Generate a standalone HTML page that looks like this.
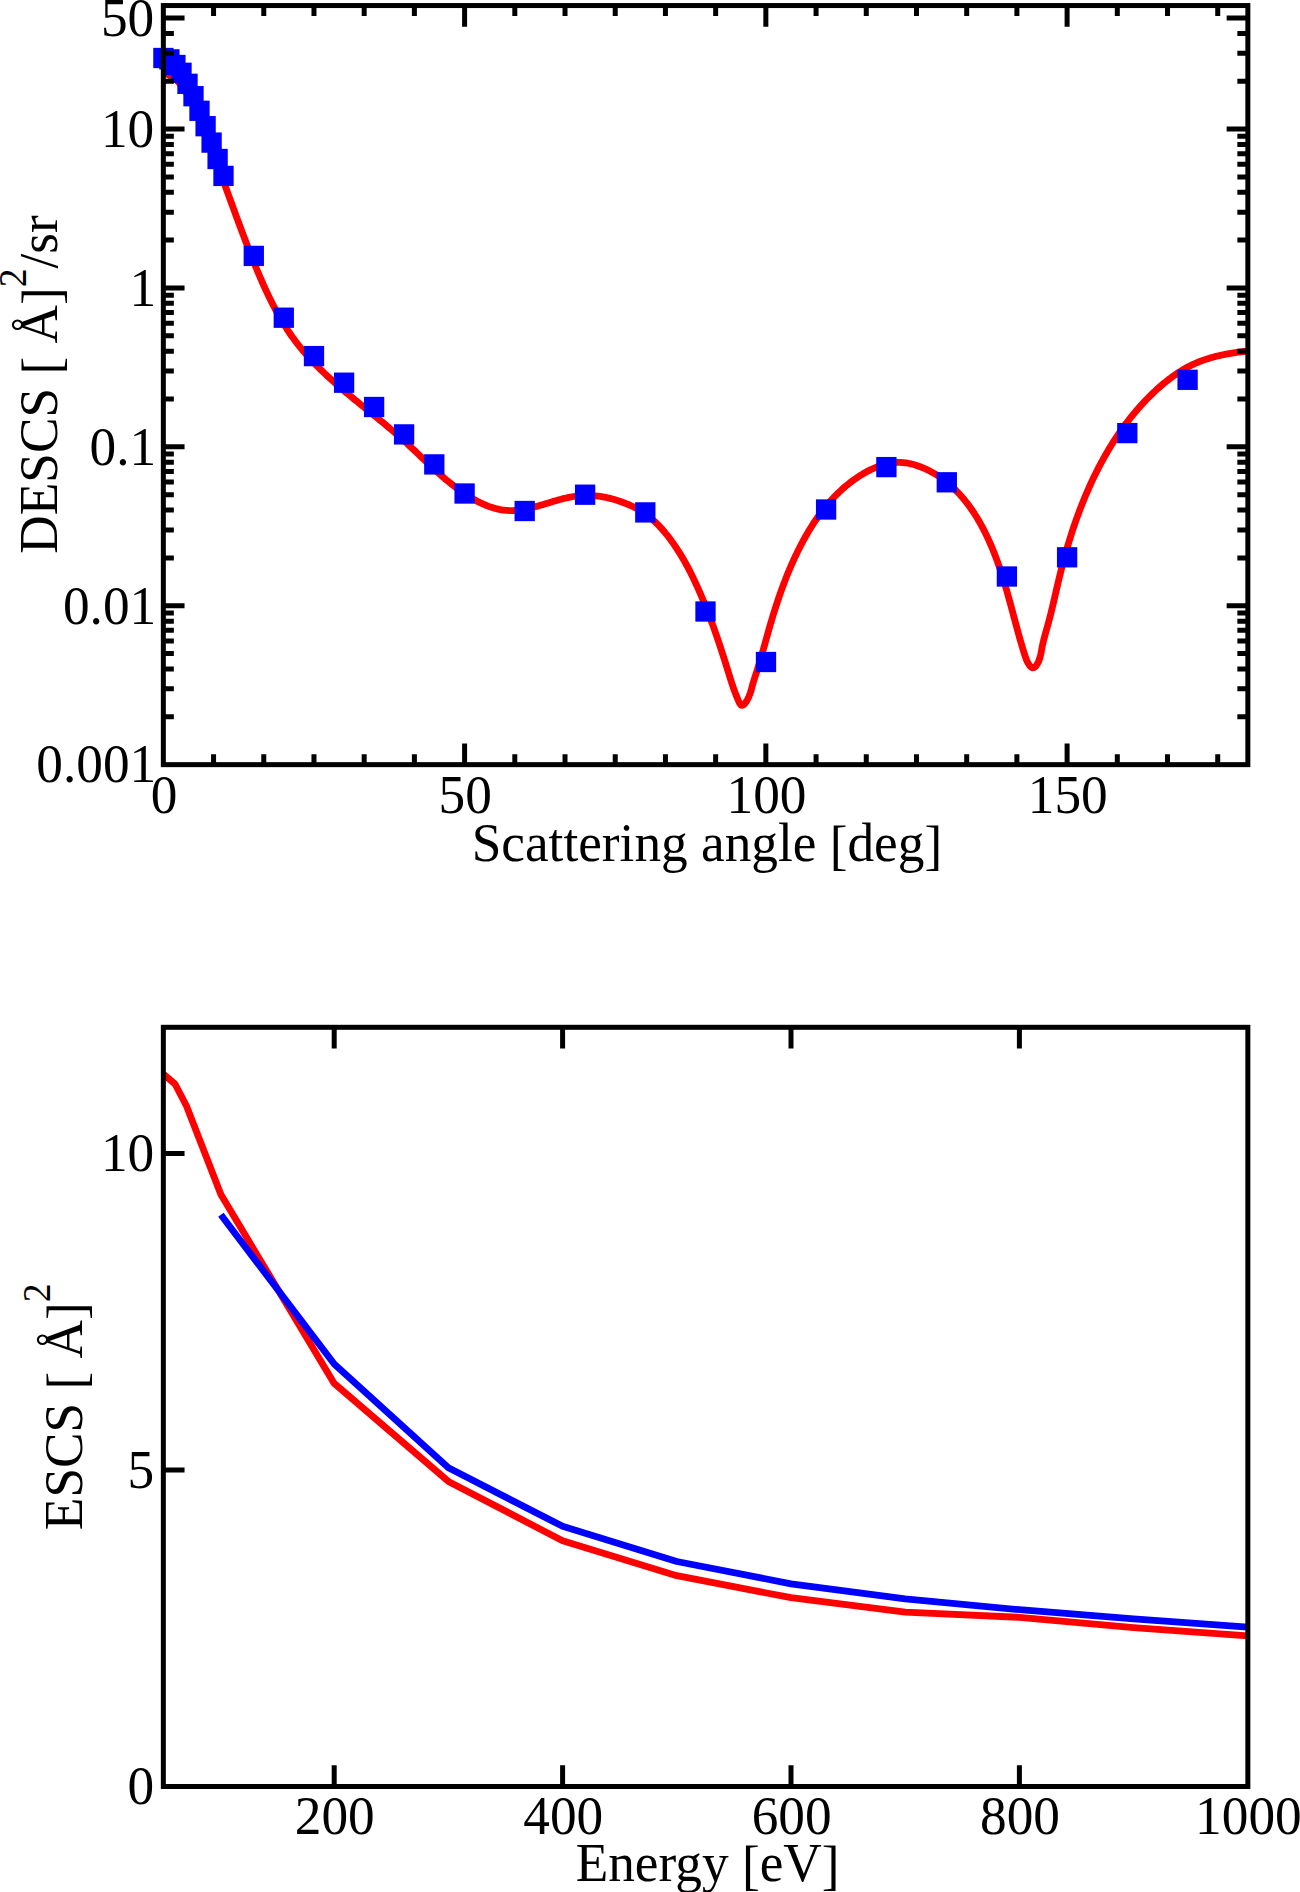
<!DOCTYPE html>
<html lang="en"><head><meta charset="utf-8"><title>DESCS and ESCS plots</title>
<style>html,body{margin:0;padding:0;background:#fff}body{width:1300px;height:1892px;overflow:hidden}svg{display:block}text{font-family:"Liberation Serif", serif;font-size:53.3px;fill:#000}.ax{stroke:#000;stroke-width:5;fill:none;stroke-linecap:butt}.c{fill:none;stroke-width:6.8;stroke-linejoin:round;stroke-linecap:butt}.e{text-anchor:end}.m{text-anchor:middle}</style></head><body>
<svg width="1300" height="1892" viewBox="0 0 1300 1892">
<rect width="1300" height="1892" fill="#fff"/>
<g id="top-panel">
<polyline class="c" stroke="#f00" points="163.71,72.99 165.23,73.46 166.69,74 168.1,74.59 169.46,75.25 170.77,75.97 172.03,76.75 173.25,77.57 174.42,78.45 175.55,79.37 176.63,80.34 177.69,81.35 178.7,82.4 179.68,83.49 180.63,84.61 181.54,85.77 182.43,86.95 183.29,88.17 184.13,89.41 184.94,90.67 185.73,91.95 186.51,93.25 187.26,94.56 188,95.89 188.73,97.22 189.44,98.57 190.15,99.92 190.85,101.27 191.53,102.62 192.22,103.98 192.89,105.34 193.56,106.7 194.22,108.07 194.87,109.43 195.52,110.8 196.16,112.17 196.79,113.54 197.42,114.92 198.04,116.29 198.66,117.67 199.27,119.05 199.87,120.43 200.47,121.82 201.07,123.2 201.66,124.59 202.25,125.97 202.83,127.36 203.4,128.75 203.98,130.14 204.55,131.53 205.11,132.93 205.67,134.32 206.23,135.71 206.79,137.11 207.34,138.5 207.89,139.9 208.44,141.29 208.98,142.69 209.53,144.09 210.07,145.49 210.61,146.88 211.14,148.28 211.68,149.68 212.21,151.08 212.75,152.47 213.28,153.87 213.81,155.27 214.34,156.67 214.87,158.07 215.39,159.46 215.92,160.86 216.44,162.26 216.96,163.66 217.49,165.06 218.01,166.46 218.53,167.86 219.05,169.25 219.56,170.65 220.08,172.05 220.6,173.45 221.11,174.85 221.63,176.25 222.14,177.65 222.66,179.05 223.17,180.45 223.69,181.85 224.2,183.25 224.71,184.65 225.22,186.05 225.73,187.45 226.25,188.85 226.76,190.25 227.27,191.65 227.78,193.05 228.29,194.45 228.8,195.85 229.31,197.25 229.82,198.65 230.34,200.05 230.85,201.45 231.36,202.85 231.87,204.25 232.38,205.66 232.9,207.06 233.41,208.46 233.92,209.86 234.44,211.26 234.95,212.66 235.47,214.07 235.98,215.47 236.5,216.87 237.02,218.27 237.54,219.67 238.06,221.08 238.58,222.48 239.1,223.88 239.62,225.28 240.14,226.69 240.67,228.09 241.19,229.49 241.72,230.89 242.25,232.3 242.78,233.7 243.31,235.1 243.84,236.51 244.37,237.91 244.91,239.32 245.44,240.72 245.98,242.12 246.52,243.53 247.06,244.93 247.6,246.34 248.15,247.74 248.69,249.14 249.24,250.55 249.79,251.95 250.34,253.36 250.89,254.76 251.45,256.17 252.01,257.57 252.57,258.98 253.13,260.38 253.69,261.79 254.26,263.19 254.83,264.6 255.4,266 255.98,267.4 256.56,268.8 257.14,270.2 257.72,271.6 258.31,273 258.9,274.4 259.49,275.8 260.09,277.19 260.69,278.58 261.3,279.98 261.9,281.37 262.52,282.75 263.13,284.14 263.75,285.52 264.38,286.9 265.01,288.28 265.64,289.66 266.28,291.03 266.92,292.41 267.57,293.77 268.22,295.14 268.87,296.5 269.53,297.86 270.2,299.22 270.87,300.57 271.55,301.92 272.23,303.27 272.92,304.61 273.61,305.95 274.31,307.29 275.01,308.62 275.72,309.95 276.44,311.27 277.16,312.59 277.89,313.9 278.62,315.21 279.37,316.52 280.11,317.82 280.87,319.11 281.63,320.4 282.39,321.69 283.17,322.97 283.95,324.25 284.74,325.52 285.53,326.78 286.33,328.04 287.14,329.29 287.96,330.54 288.78,331.78 289.62,333.02 290.46,334.25 291.3,335.47 292.16,336.68 293.02,337.89 293.89,339.1 294.77,340.3 295.66,341.49 296.56,342.67 297.46,343.84 298.38,345.01 299.3,346.18 300.23,347.33 301.16,348.48 302.11,349.63 303.06,350.76 304.02,351.89 304.99,353.02 305.96,354.14 306.95,355.25 307.93,356.36 308.93,357.46 309.93,358.56 310.94,359.65 311.96,360.73 312.98,361.81 314,362.89 315.04,363.96 316.08,365.02 317.12,366.08 318.18,367.14 319.23,368.19 320.29,369.23 321.36,370.28 322.44,371.31 323.51,372.35 324.6,373.38 325.68,374.4 326.78,375.43 327.87,376.44 328.97,377.46 330.08,378.47 331.19,379.48 332.3,380.48 333.42,381.48 334.54,382.48 335.67,383.47 336.79,384.46 337.93,385.45 339.06,386.44 340.2,387.42 341.34,388.4 342.48,389.38 343.63,390.36 344.78,391.33 345.93,392.31 347.09,393.28 348.24,394.24 349.4,395.21 350.56,396.18 351.72,397.14 352.89,398.1 354.05,399.06 355.22,400.02 356.39,400.98 357.56,401.94 358.73,402.89 359.9,403.85 361.07,404.8 362.25,405.76 363.42,406.71 364.6,407.66 365.77,408.62 366.94,409.57 368.12,410.52 369.29,411.48 370.47,412.43 371.64,413.38 372.81,414.34 373.99,415.29 375.16,416.24 376.33,417.2 377.5,418.16 378.67,419.11 379.84,420.07 381.01,421.03 382.17,421.99 383.33,422.95 384.5,423.91 385.66,424.88 386.81,425.84 387.97,426.81 389.12,427.78 390.27,428.75 391.42,429.73 392.57,430.7 393.71,431.68 394.85,432.66 395.99,433.64 397.12,434.63 398.25,435.62 399.38,436.61 400.5,437.6 401.62,438.6 402.74,439.59 403.85,440.6 404.96,441.6 406.06,442.61 407.16,443.62 408.26,444.64 409.35,445.66 410.45,446.68 411.53,447.7 412.62,448.72 413.7,449.75 414.79,450.77 415.87,451.8 416.94,452.83 418.02,453.86 419.1,454.89 420.18,455.91 421.25,456.94 422.33,457.97 423.41,459 424.48,460.03 425.56,461.05 426.64,462.08 427.72,463.1 428.8,464.12 429.89,465.14 430.97,466.16 432.06,467.17 433.15,468.19 434.25,469.2 435.34,470.2 436.44,471.2 437.55,472.2 438.66,473.2 439.77,474.19 440.89,475.17 442.01,476.16 443.14,477.13 444.27,478.1 445.41,479.07 446.55,480.03 447.7,480.99 448.85,481.94 450.02,482.88 451.19,483.82 452.36,484.74 453.55,485.67 454.74,486.58 455.94,487.49 457.15,488.39 458.36,489.28 459.59,490.17 460.82,491.04 462.06,491.91 463.32,492.77 464.58,493.62 465.85,494.46 467.13,495.29 468.43,496.1 469.73,496.91 471.03,497.7 472.35,498.48 473.68,499.24 475.01,499.98 476.36,500.71 477.7,501.42 479.06,502.11 480.43,502.78 481.8,503.44 483.17,504.06 484.56,504.67 485.95,505.25 487.34,505.81 488.74,506.34 490.15,506.84 491.56,507.32 492.98,507.77 494.4,508.19 495.82,508.58 497.25,508.94 498.68,509.26 500.12,509.55 501.56,509.81 503,510.03 504.45,510.22 505.89,510.37 507.34,510.48 508.79,510.56 510.25,510.59 511.7,510.59 513.16,510.55 514.62,510.48 516.08,510.38 517.54,510.25 519.01,510.09 520.47,509.9 521.94,509.68 523.41,509.44 524.87,509.17 526.34,508.88 527.82,508.58 529.29,508.25 530.76,507.9 532.24,507.54 533.71,507.16 535.19,506.77 536.66,506.37 538.14,505.96 539.62,505.53 541.1,505.1 542.58,504.66 544.06,504.22 545.54,503.77 547.02,503.33 548.5,502.88 549.98,502.43 551.46,501.98 552.94,501.54 554.42,501.1 555.9,500.67 557.39,500.25 558.87,499.83 560.35,499.43 561.83,499.04 563.31,498.66 564.79,498.3 566.27,497.95 567.74,497.62 569.22,497.31 570.7,497.02 572.18,496.76 573.65,496.51 575.13,496.29 576.6,496.1 578.07,495.94 579.54,495.8 581.02,495.68 582.49,495.59 583.95,495.53 585.42,495.49 586.89,495.48 588.36,495.49 589.82,495.53 591.28,495.58 592.75,495.67 594.21,495.77 595.67,495.9 597.13,496.06 598.58,496.23 600.04,496.43 601.5,496.65 602.95,496.89 604.4,497.16 605.85,497.44 607.3,497.75 608.75,498.08 610.2,498.43 611.64,498.79 613.09,499.18 614.53,499.59 615.97,500.02 617.41,500.47 618.85,500.94 620.29,501.43 621.72,501.93 623.15,502.46 624.58,503 626,503.57 627.41,504.15 628.81,504.75 630.21,505.38 631.6,506.02 632.98,506.68 634.35,507.36 635.7,508.07 637.05,508.79 638.38,509.53 639.69,510.3 640.99,511.08 642.28,511.88 643.54,512.71 644.79,513.55 646.02,514.42 647.23,515.31 648.43,516.21 649.6,517.14 650.76,518.08 651.89,519.04 653.02,520.02 654.12,521.02 655.21,522.03 656.29,523.06 657.34,524.1 658.39,525.16 659.42,526.23 660.43,527.32 661.44,528.42 662.43,529.53 663.4,530.65 664.37,531.78 665.32,532.93 666.26,534.08 667.19,535.24 668.11,536.41 669.02,537.59 669.92,538.78 670.81,539.98 671.69,541.18 672.56,542.39 673.42,543.61 674.28,544.84 675.12,546.07 675.95,547.31 676.78,548.56 677.59,549.81 678.4,551.08 679.2,552.34 679.99,553.61 680.77,554.89 681.55,556.18 682.31,557.47 683.07,558.76 683.82,560.06 684.56,561.37 685.3,562.68 686.03,564 686.75,565.32 687.46,566.64 688.17,567.97 688.87,569.31 689.56,570.64 690.25,571.99 690.93,573.33 691.6,574.68 692.27,576.03 692.93,577.39 693.58,578.74 694.24,580.11 694.88,581.47 695.52,582.84 696.15,584.2 696.78,585.57 697.4,586.95 698.02,588.32 698.64,589.7 699.24,591.08 699.85,592.45 700.45,593.84 701.04,595.22 701.63,596.6 702.22,597.99 702.8,599.37 703.38,600.76 703.95,602.15 704.52,603.54 705.08,604.93 705.64,606.33 706.2,607.72 706.75,609.12 707.3,610.51 707.85,611.91 708.39,613.31 708.93,614.71 709.46,616.11 709.99,617.52 710.52,618.92 711.04,620.32 711.56,621.73 712.08,623.14 712.59,624.54 713.1,625.95 713.61,627.36 714.11,628.77 714.61,630.18 715.11,631.59 715.61,633.01 716.1,634.42 716.59,635.83 717.07,637.25 717.56,638.66 718.04,640.08 718.52,641.5 718.99,642.91 719.47,644.33 719.94,645.75 720.41,647.17 720.87,648.59 721.34,650.01 721.8,651.43 722.26,652.85 722.72,654.27 723.18,655.69 723.63,657.11 724.09,658.53 724.54,659.96 724.99,661.38 725.43,662.8 725.88,664.22 726.32,665.65 726.77,667.07 727.21,668.49 727.65,669.92 728.09,671.34 728.53,672.76 728.97,674.19 729.41,675.61 729.85,677.04 730.3,678.47 730.76,679.9 731.21,681.33 731.68,682.76 732.15,684.2 732.64,685.64 733.13,687.08 733.63,688.53 734.15,689.98 734.68,691.43 735.22,692.89 735.78,694.36 736.35,695.83 736.95,697.3 737.56,698.78 738.19,700.27 738.84,701.73 739.52,703.09 740.25,704.22 741.04,705.02 741.89,705.38 742.82,705.21 743.8,704.57 744.8,703.57 745.78,702.29 746.72,700.84 747.59,699.31 748.36,697.8 749.04,696.3 749.63,694.82 750.16,693.35 750.63,691.89 751.06,690.45 751.47,689.01 751.85,687.58 752.23,686.16 752.62,684.73 753.03,683.31 753.45,681.88 753.89,680.45 754.34,679.03 754.79,677.6 755.25,676.17 755.72,674.74 756.19,673.31 756.65,671.88 757.11,670.45 757.57,669.02 758.02,667.58 758.46,666.15 758.9,664.72 759.34,663.28 759.77,661.84 760.2,660.41 760.62,658.97 761.04,657.53 761.46,656.1 761.87,654.66 762.28,653.22 762.69,651.78 763.09,650.34 763.5,648.9 763.9,647.46 764.3,646.02 764.7,644.58 765.1,643.14 765.5,641.7 765.9,640.26 766.3,638.82 766.7,637.38 767.11,635.94 767.51,634.5 767.91,633.06 768.32,631.62 768.72,630.18 769.13,628.74 769.55,627.3 769.96,625.86 770.38,624.42 770.8,622.98 771.22,621.55 771.65,620.11 772.08,618.67 772.51,617.24 772.95,615.8 773.39,614.36 773.83,612.93 774.28,611.5 774.73,610.06 775.18,608.63 775.64,607.2 776.1,605.77 776.56,604.34 777.03,602.92 777.51,601.49 777.98,600.07 778.46,598.64 778.95,597.22 779.44,595.8 779.93,594.38 780.43,592.96 780.93,591.55 781.44,590.13 781.95,588.72 782.46,587.31 782.98,585.9 783.51,584.49 784.04,583.08 784.57,581.68 785.11,580.28 785.66,578.88 786.21,577.48 786.76,576.08 787.32,574.69 787.89,573.3 788.46,571.91 789.04,570.52 789.62,569.14 790.21,567.76 790.8,566.38 791.4,565 792,563.63 792.61,562.26 793.23,560.89 793.85,559.53 794.48,558.16 795.12,556.8 795.76,555.45 796.4,554.09 797.06,552.74 797.71,551.39 798.38,550.05 799.05,548.71 799.73,547.37 800.42,546.03 801.11,544.7 801.81,543.38 802.51,542.05 803.23,540.73 803.95,539.41 804.67,538.1 805.41,536.79 806.15,535.48 806.9,534.18 807.65,532.89 808.42,531.6 809.19,530.31 809.97,529.03 810.75,527.75 811.55,526.48 812.35,525.21 813.16,523.95 813.98,522.7 814.81,521.45 815.64,520.21 816.49,518.97 817.34,517.74 818.2,516.52 819.07,515.3 819.95,514.09 820.84,512.89 821.74,511.7 822.64,510.51 823.56,509.33 824.48,508.16 825.42,507 826.36,505.85 827.32,504.7 828.28,503.56 829.25,502.43 830.24,501.31 831.23,500.2 832.24,499.1 833.25,498.01 834.27,496.93 835.31,495.86 836.35,494.8 837.41,493.74 838.48,492.7 839.55,491.67 840.64,490.65 841.74,489.64 842.85,488.65 843.97,487.66 845.11,486.68 846.25,485.72 847.41,484.77 848.57,483.83 849.75,482.9 850.94,481.98 852.15,481.08 853.36,480.19 854.59,479.31 855.83,478.44 857.08,477.59 858.34,476.75 859.62,475.93 860.91,475.12 862.21,474.32 863.52,473.54 864.84,472.77 866.18,472.03 867.53,471.3 868.88,470.59 870.25,469.91 871.62,469.24 873.01,468.6 874.4,467.99 875.8,467.4 877.21,466.84 878.63,466.31 880.05,465.8 881.48,465.33 882.92,464.89 884.36,464.48 885.8,464.1 887.26,463.76 888.71,463.46 890.17,463.19 891.64,462.96 893.11,462.77 894.58,462.62 896.05,462.51 897.53,462.45 899.01,462.43 900.48,462.45 901.96,462.52 903.44,462.64 904.92,462.8 906.4,462.99 907.88,463.23 909.35,463.51 910.82,463.82 912.28,464.18 913.74,464.56 915.19,464.98 916.64,465.43 918.08,465.92 919.51,466.43 920.93,466.97 922.35,467.54 923.75,468.13 925.14,468.75 926.52,469.39 927.88,470.05 929.24,470.73 930.58,471.43 931.9,472.15 933.21,472.89 934.51,473.65 935.79,474.42 937.06,475.21 938.31,476.02 939.55,476.85 940.78,477.69 941.99,478.54 943.19,479.42 944.37,480.31 945.54,481.21 946.7,482.13 947.85,483.07 948.98,484.02 950.1,484.99 951.21,485.97 952.3,486.96 953.38,487.97 954.45,488.99 955.51,490.03 956.55,491.08 957.58,492.14 958.6,493.22 959.61,494.31 960.6,495.41 961.58,496.52 962.55,497.64 963.51,498.78 964.46,499.93 965.4,501.09 966.32,502.26 967.24,503.44 968.14,504.63 969.03,505.83 969.91,507.04 970.78,508.26 971.64,509.49 972.49,510.73 973.32,511.98 974.15,513.24 974.96,514.5 975.77,515.78 976.57,517.06 977.35,518.35 978.13,519.65 978.89,520.96 979.65,522.27 980.39,523.59 981.13,524.92 981.86,526.25 982.58,527.59 983.28,528.94 983.98,530.29 984.67,531.65 985.35,533.01 986.02,534.38 986.69,535.75 987.34,537.13 987.99,538.51 988.62,539.89 989.25,541.28 989.87,542.68 990.48,544.07 991.09,545.47 991.68,546.88 992.27,548.28 992.85,549.69 993.42,551.1 993.99,552.51 994.54,553.93 995.09,555.34 995.64,556.76 996.17,558.18 996.7,559.6 997.22,561.02 997.73,562.44 998.24,563.86 998.74,565.28 999.23,566.7 999.72,568.12 1000.2,569.54 1000.67,570.95 1001.14,572.37 1001.61,573.79 1002.06,575.21 1002.51,576.63 1002.96,578.04 1003.4,579.46 1003.84,580.88 1004.27,582.3 1004.7,583.71 1005.12,585.13 1005.54,586.55 1005.96,587.97 1006.37,589.39 1006.78,590.81 1007.19,592.23 1007.59,593.65 1007.99,595.07 1008.39,596.49 1008.79,597.91 1009.18,599.33 1009.57,600.76 1009.96,602.18 1010.35,603.61 1010.74,605.04 1011.13,606.46 1011.51,607.89 1011.9,609.32 1012.28,610.75 1012.66,612.18 1013.05,613.62 1013.43,615.05 1013.82,616.49 1014.2,617.93 1014.59,619.37 1014.97,620.81 1015.36,622.25 1015.75,623.7 1016.14,625.14 1016.53,626.59 1016.93,628.04 1017.32,629.49 1017.72,630.95 1018.12,632.4 1018.52,633.86 1018.93,635.32 1019.34,636.78 1019.75,638.25 1020.17,639.71 1020.59,641.18 1021.01,642.65 1021.44,644.13 1021.88,645.61 1022.31,647.09 1022.75,648.57 1023.2,650.05 1023.65,651.54 1024.11,653.03 1024.58,654.52 1025.06,656 1025.58,657.47 1026.12,658.92 1026.71,660.33 1027.36,661.72 1028.06,663.06 1028.83,664.35 1029.67,665.57 1030.57,666.61 1031.53,667.38 1032.52,667.77 1033.54,667.69 1034.56,667.17 1035.55,666.31 1036.48,665.2 1037.33,663.94 1038.07,662.61 1038.71,661.22 1039.27,659.78 1039.75,658.3 1040.17,656.78 1040.54,655.24 1040.87,653.68 1041.18,652.11 1041.47,650.54 1041.75,648.98 1042.05,647.43 1042.35,645.89 1042.68,644.38 1043.02,642.88 1043.36,641.4 1043.72,639.93 1044.09,638.48 1044.47,637.03 1044.86,635.6 1045.25,634.17 1045.64,632.75 1046.04,631.33 1046.44,629.91 1046.84,628.5 1047.24,627.09 1047.64,625.67 1048.03,624.26 1048.42,622.83 1048.8,621.41 1049.18,619.98 1049.56,618.55 1049.93,617.11 1050.3,615.67 1050.66,614.22 1051.02,612.77 1051.38,611.32 1051.74,609.87 1052.09,608.41 1052.44,606.95 1052.79,605.49 1053.13,604.03 1053.48,602.56 1053.82,601.1 1054.16,599.63 1054.5,598.16 1054.84,596.69 1055.18,595.22 1055.52,593.74 1055.86,592.27 1056.2,590.8 1056.54,589.32 1056.88,587.85 1057.22,586.37 1057.57,584.9 1057.91,583.43 1058.26,581.96 1058.6,580.49 1058.95,579.02 1059.3,577.55 1059.66,576.08 1060.02,574.61 1060.38,573.15 1060.74,571.69 1061.1,570.23 1061.47,568.77 1061.84,567.31 1062.22,565.86 1062.6,564.41 1062.98,562.96 1063.36,561.51 1063.75,560.06 1064.14,558.61 1064.53,557.17 1064.93,555.72 1065.33,554.28 1065.74,552.84 1066.14,551.4 1066.56,549.96 1066.97,548.53 1067.39,547.1 1067.81,545.66 1068.24,544.23 1068.67,542.8 1069.1,541.38 1069.54,539.95 1069.98,538.52 1070.42,537.1 1070.87,535.68 1071.32,534.26 1071.78,532.84 1072.24,531.42 1072.71,530.01 1073.18,528.59 1073.65,527.18 1074.13,525.77 1074.61,524.35 1075.1,522.95 1075.59,521.54 1076.08,520.13 1076.58,518.73 1077.09,517.32 1077.6,515.92 1078.11,514.52 1078.63,513.12 1079.15,511.72 1079.68,510.32 1080.21,508.92 1080.75,507.53 1081.29,506.14 1081.84,504.74 1082.39,503.35 1082.95,501.96 1083.51,500.57 1084.07,499.18 1084.65,497.8 1085.22,496.41 1085.81,495.03 1086.39,493.65 1086.99,492.27 1087.58,490.89 1088.19,489.51 1088.79,488.13 1089.41,486.76 1090.03,485.39 1090.65,484.02 1091.28,482.65 1091.92,481.29 1092.56,479.92 1093.2,478.56 1093.85,477.21 1094.51,475.85 1095.17,474.5 1095.84,473.15 1096.51,471.8 1097.19,470.45 1097.87,469.11 1098.56,467.77 1099.26,466.43 1099.96,465.1 1100.66,463.77 1101.37,462.44 1102.09,461.11 1102.81,459.79 1103.54,458.47 1104.28,457.16 1105.02,455.85 1105.77,454.54 1106.52,453.23 1107.28,451.93 1108.04,450.63 1108.81,449.34 1109.58,448.05 1110.37,446.76 1111.15,445.48 1111.95,444.2 1112.75,442.93 1113.55,441.66 1114.36,440.39 1115.18,439.13 1116,437.88 1116.83,436.62 1117.67,435.37 1118.51,434.13 1119.36,432.89 1120.22,431.66 1121.08,430.43 1121.94,429.2 1122.82,427.98 1123.7,426.77 1124.58,425.56 1125.47,424.35 1126.37,423.15 1127.28,421.96 1128.19,420.77 1129.11,419.58 1130.03,418.4 1130.96,417.23 1131.9,416.06 1132.84,414.9 1133.79,413.74 1134.75,412.59 1135.71,411.45 1136.68,410.31 1137.66,409.18 1138.64,408.05 1139.63,406.93 1140.63,405.81 1141.63,404.7 1142.64,403.6 1143.66,402.5 1144.69,401.41 1145.72,400.33 1146.75,399.25 1147.8,398.18 1148.85,397.12 1149.91,396.06 1150.97,395.01 1152.04,393.97 1153.12,392.93 1154.21,391.9 1155.3,390.88 1156.4,389.86 1157.51,388.85 1158.62,387.85 1159.75,386.86 1160.88,385.88 1162.01,384.91 1163.16,383.94 1164.31,382.98 1165.47,382.04 1166.64,381.1 1167.81,380.18 1168.99,379.26 1170.19,378.36 1171.39,377.47 1172.59,376.59 1173.81,375.72 1175.03,374.86 1176.27,374.02 1177.51,373.19 1178.76,372.38 1180.02,371.57 1181.29,370.79 1182.56,370.01 1183.85,369.25 1185.15,368.51 1186.45,367.78 1187.76,367.07 1189.09,366.37 1190.42,365.69 1191.76,365.03 1193.11,364.38 1194.47,363.76 1195.84,363.15 1197.23,362.55 1198.62,361.98 1200.02,361.42 1201.43,360.88 1202.84,360.36 1204.27,359.86 1205.7,359.37 1207.14,358.9 1208.59,358.45 1210.04,358.01 1211.5,357.59 1212.97,357.18 1214.44,356.78 1215.91,356.41 1217.38,356.04 1218.86,355.69 1220.35,355.35 1221.83,355.03 1223.32,354.72 1224.8,354.42 1226.29,354.13 1227.78,353.85 1229.27,353.59 1230.75,353.34 1232.24,353.09 1233.72,352.86 1235.21,352.64 1236.68,352.43 1238.16,352.22 1239.63,352.03 1241.1,351.84 1242.56,351.67 1244.02,351.5 1245.47,351.34 1246.92,351.18 1247.73,351.1"/>
<g fill="#00f">
<rect x="153.25" y="47.85" width="20.3" height="20.3"/>
<rect x="159.25" y="49.25" width="20.3" height="20.3"/>
<rect x="165.25" y="54.85" width="20.3" height="20.3"/>
<rect x="171.35" y="62.65" width="20.3" height="20.3"/>
<rect x="177.35" y="73.65" width="20.3" height="20.3"/>
<rect x="183.35" y="86.05" width="20.3" height="20.3"/>
<rect x="189.35" y="100.65" width="20.3" height="20.3"/>
<rect x="195.45" y="116.05" width="20.3" height="20.3"/>
<rect x="201.45" y="132.45" width="20.3" height="20.3"/>
<rect x="207.45" y="148.85" width="20.3" height="20.3"/>
<rect x="213.35" y="165.75" width="20.3" height="20.3"/>
<rect x="243.65" y="245.75" width="20.3" height="20.3"/>
<rect x="273.65" y="307.55" width="20.3" height="20.3"/>
<rect x="303.85" y="345.95" width="20.3" height="20.3"/>
<rect x="333.95" y="372.55" width="20.3" height="20.3"/>
<rect x="363.95" y="396.85" width="20.3" height="20.3"/>
<rect x="393.95" y="424.25" width="20.3" height="20.3"/>
<rect x="424.15" y="454.25" width="20.3" height="20.3"/>
<rect x="454.45" y="483.35" width="20.3" height="20.3"/>
<rect x="514.55" y="500.85" width="20.3" height="20.3"/>
<rect x="574.95" y="484.55" width="20.3" height="20.3"/>
<rect x="635.15" y="502.25" width="20.3" height="20.3"/>
<rect x="695.35" y="601.35" width="20.3" height="20.3"/>
<rect x="755.85" y="651.85" width="20.3" height="20.3"/>
<rect x="815.95" y="499.35" width="20.3" height="20.3"/>
<rect x="876.25" y="456.95" width="20.3" height="20.3"/>
<rect x="936.65" y="472.15" width="20.3" height="20.3"/>
<rect x="996.75" y="566.35" width="20.3" height="20.3"/>
<rect x="1056.95" y="547.15" width="20.3" height="20.3"/>
<rect x="1117.15" y="422.95" width="20.3" height="20.3"/>
<rect x="1177.45" y="369.65" width="20.3" height="20.3"/>
</g>
<path class="ax" d="M213.56 5.55V16.05M213.56 764.65V754.15M263.77 5.55V16.05M263.77 764.65V754.15M313.98 5.55V16.05M313.98 764.65V754.15M364.18 5.55V16.05M364.18 764.65V754.15M414.39 5.55V16.05M414.39 764.65V754.15M464.6 5.55V26.75M464.6 764.65V743.45M514.81 5.55V16.05M514.81 764.65V754.15M565.02 5.55V16.05M565.02 764.65V754.15M615.23 5.55V16.05M615.23 764.65V754.15M665.43 5.55V16.05M665.43 764.65V754.15M715.64 5.55V16.05M715.64 764.65V754.15M765.85 5.55V26.75M765.85 764.65V743.45M816.06 5.55V16.05M816.06 764.65V754.15M866.27 5.55V16.05M866.27 764.65V754.15M916.48 5.55V16.05M916.48 764.65V754.15M966.68 5.55V16.05M966.68 764.65V754.15M1016.89 5.55V16.05M1016.89 764.65V754.15M1067.1 5.55V26.75M1067.1 764.65V743.45M1117.31 5.55V16.05M1117.31 764.65V754.15M1167.52 5.55V16.05M1167.52 764.65V754.15M1217.72 5.55V16.05M1217.72 764.65V754.15M163.35 716.82H173.85M1247.85 716.82H1237.35M163.35 688.84H173.85M1247.85 688.84H1237.35M163.35 668.98H173.85M1247.85 668.98H1237.35M163.35 653.58H173.85M1247.85 653.58H1237.35M163.35 641H173.85M1247.85 641H1237.35M163.35 630.36H173.85M1247.85 630.36H1237.35M163.35 621.15H173.85M1247.85 621.15H1237.35M163.35 613.02H173.85M1247.85 613.02H1237.35M163.35 605.75H184.55M1247.85 605.75H1226.65M163.35 557.92H173.85M1247.85 557.92H1237.35M163.35 529.94H173.85M1247.85 529.94H1237.35M163.35 510.08H173.85M1247.85 510.08H1237.35M163.35 494.68H173.85M1247.85 494.68H1237.35M163.35 482.1H173.85M1247.85 482.1H1237.35M163.35 471.46H173.85M1247.85 471.46H1237.35M163.35 462.25H173.85M1247.85 462.25H1237.35M163.35 454.12H173.85M1247.85 454.12H1237.35M163.35 446.85H184.55M1247.85 446.85H1226.65M163.35 399.02H173.85M1247.85 399.02H1237.35M163.35 371.04H173.85M1247.85 371.04H1237.35M163.35 351.18H173.85M1247.85 351.18H1237.35M163.35 335.78H173.85M1247.85 335.78H1237.35M163.35 323.2H173.85M1247.85 323.2H1237.35M163.35 312.56H173.85M1247.85 312.56H1237.35M163.35 303.35H173.85M1247.85 303.35H1237.35M163.35 295.22H173.85M1247.85 295.22H1237.35M163.35 287.95H184.55M1247.85 287.95H1226.65M163.35 240.12H173.85M1247.85 240.12H1237.35M163.35 212.14H173.85M1247.85 212.14H1237.35M163.35 192.28H173.85M1247.85 192.28H1237.35M163.35 176.88H173.85M1247.85 176.88H1237.35M163.35 164.3H173.85M1247.85 164.3H1237.35M163.35 153.66H173.85M1247.85 153.66H1237.35M163.35 144.45H173.85M1247.85 144.45H1237.35M163.35 136.32H173.85M1247.85 136.32H1237.35M163.35 129.05H184.55M1247.85 129.05H1226.65M163.35 81.22H173.85M1247.85 81.22H1237.35M163.35 53.24H173.85M1247.85 53.24H1237.35M163.35 33.38H173.85M1247.85 33.38H1237.35M163.35 17.98H184.55M1247.85 17.98H1226.65"/>
<rect class="ax" x="163.35" y="5.55" width="1084.5" height="759.1"/>
<text class="e" transform="translate(154.2 35.78) scale(1 1.04)">50</text>
<text class="e" transform="translate(154.2 146.85) scale(1 1.04)">10</text>
<text class="e" transform="translate(156.2 305.75) scale(1 1.04)">1</text>
<text class="e" transform="translate(156.2 464.65) scale(1 1.04)">0.1</text>
<text class="e" transform="translate(156.2 623.55) scale(1 1.04)">0.01</text>
<text class="e" transform="translate(156.2 782.45) scale(1 1.04)">0.001</text>
<text class="m" transform="translate(163.95 812.6) scale(1 1.04)">0</text>
<text class="m" transform="translate(465.2 812.6) scale(1 1.04)">50</text>
<text class="m" transform="translate(766.45 812.6) scale(1 1.04)">100</text>
<text class="m" transform="translate(1067.7 812.6) scale(1 1.04)">150</text>
<text class="m" transform="translate(706.9 861) scale(1 1.04)">Scattering angle <tspan dy="2.5">[</tspan><tspan dy="-2.5">deg</tspan><tspan dy="2.5">]</tspan></text>
<text class="m" transform="translate(57 384.4) rotate(-90) scale(1 1.04)">DESCS <tspan dy="2.5">[</tspan><tspan dy="-2.5"> Å</tspan><tspan dy="2.5">]</tspan><tspan font-size="37.5px" dy="-32.5">2</tspan><tspan dy="30">/sr</tspan></text>
</g>
<g id="bottom-panel">
<polyline class="c" stroke="#f00" stroke-linejoin="miter" points="163.7,1074.3 174.9,1083.8 186.5,1106 220.9,1194.6 334.2,1383.4 448.4,1481.4 562.6,1540.8 676.8,1575.7 791,1597.7 905.2,1612.2 1019.4,1617.3 1133.6,1627.7 1247.8,1635.8"/>
<polyline class="c" stroke="#00f" stroke-linejoin="miter" points="220.9,1214.8 334.2,1364 448.4,1467.8 562.6,1526.3 676.8,1561.5 791,1583.8 905.2,1598.8 1019.4,1609.7 1133.6,1618.9 1247.8,1627.2"/>
<path class="ax" d="M334.2 1027.3V1048.5M334.2 1786.5V1765.3M562.6 1027.3V1048.5M562.6 1786.5V1765.3M791 1027.3V1048.5M791 1786.5V1765.3M1019.4 1027.3V1048.5M1019.4 1786.5V1765.3M163.35 1470.05H184.55M163.35 1153.6H184.55"/>
<rect class="ax" x="163.35" y="1027.3" width="1084.5" height="759.2"/>
<text class="e" transform="translate(154.2 1171.4) scale(1 1.04)">10</text>
<text class="e" transform="translate(154.2 1487.85) scale(1 1.04)">5</text>
<text class="e" transform="translate(154.2 1804.3) scale(1 1.04)">0</text>
<text class="m" transform="translate(334.8 1833.6) scale(1 1.04)">200</text>
<text class="m" transform="translate(563.2 1833.6) scale(1 1.04)">400</text>
<text class="m" transform="translate(791.6 1833.6) scale(1 1.04)">600</text>
<text class="m" transform="translate(1020 1833.6) scale(1 1.04)">800</text>
<text class="m" transform="translate(1248.4 1833.6) scale(1 1.04)">1000</text>
<text class="m" transform="translate(707.6 1881) scale(1 1.04)">Energy <tspan dy="2.5">[</tspan><tspan dy="-2.5">eV</tspan><tspan dy="2.5">]</tspan></text>
<text class="m" transform="translate(82.2 1406.8) rotate(-90) scale(1 1.04)">ESCS <tspan dy="2.5">[</tspan><tspan dy="-2.5"> Å</tspan><tspan dy="2.5">]</tspan><tspan font-size="37.5px" dy="-33.7">2</tspan></text>
</g>
</svg></body></html>
